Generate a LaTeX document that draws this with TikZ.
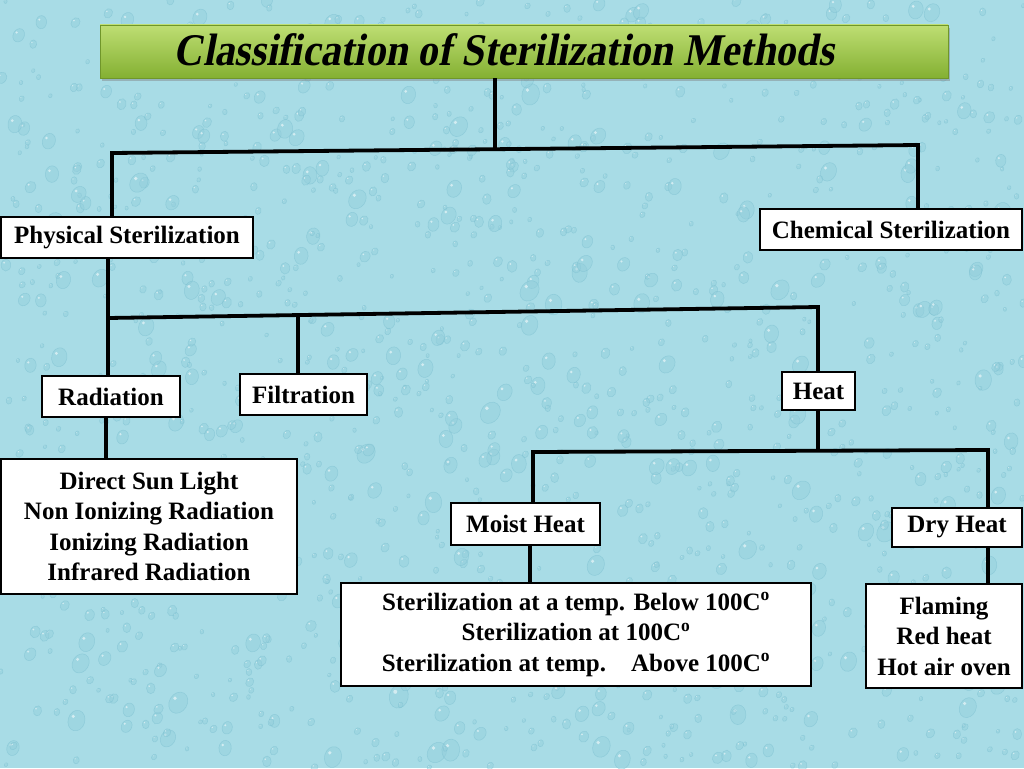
\documentclass[tikz,border=0pt]{standalone}
\usepackage{fontspec}
\setmainfont{Liberation Serif}
\newfontfamily\titlefont{Liberation Serif}[UprightFeatures={FakeSlant=0.21}, BoldFeatures={FakeSlant=0.21}]
\usetikzlibrary{shadows}
\definecolor{bgaqua}{RGB}{168,220,230}
\definecolor{dropdark}{RGB}{118,188,206}
\definecolor{titletop}{RGB}{190,222,115}
\definecolor{titlebot}{RGB}{132,176,50}
\tikzset{
  box/.style={draw=black, line width=2pt, fill=white, inner sep=0pt, align=center,
              font=\fontsize{25}{30.5}\selectfont\bfseries},
  conn/.style={draw=black, line width=3.8pt},
  drop/.style={draw=dropdark, line width=0.5pt, fill=dropdark!40!bgaqua, opacity=0.45},
  shine/.style={fill=white, opacity=0.55},
}
\begin{document}
\begin{tikzpicture}[x=1pt,y=-1pt]
\fill[bgaqua] (0,0) rectangle (1024,768);
\useasboundingbox (0,0) rectangle (1024,768);

% background droplet texture
\pgfmathsetseed{11}
\begin{scope}
\clip (0,0) rectangle (1024,768);
\foreach \i in {1,...,1400} {
  \pgfmathsetmacro\dx{rnd*1024}
  \pgfmathsetmacro\dy{rnd*768}
  \pgfmathsetmacro\dr{2+rnd*rnd*10}
  \pgfmathsetmacro\da{-40+rnd*40}
  \fill[drop, rotate around={\da:(\dx,\dy)}] (\dx,\dy) ellipse [x radius=\dr*0.8, y radius=\dr];
  \fill[shine] (\dx-\dr*0.3,\dy-\dr*0.4) circle [radius=\dr*0.17];
}
\end{scope}

% title
\node[draw=titlebot!85!black, line width=0.8pt, top color=titletop, bottom color=titlebot,
      drop shadow={shadow xshift=2pt, shadow yshift=-3pt, opacity=0.45},
      minimum width=848pt, minimum height=53pt, inner sep=0pt] (title) at (524,51.5) {};
\node[font=\fontsize{40.5}{44}\titlefont\bfseries, inner sep=0pt] (titletext) at (504,50)
      {\scalebox{1}[1.12]{Classification of Sterilization Methods}};

% boxes
\node[box, minimum width=252pt, minimum height=41pt] (phys) at (127,237.5) {Physical Sterilization};
\node[box, minimum width=262pt, minimum height=41pt] (chem) at (891,229.5) {Chemical Sterilization};
\node[box, minimum width=138pt, minimum height=41pt] (rad) at (111,396.5) {Radiation};
\node[box, minimum width=127pt, minimum height=41pt] (filt) at (303.5,394.5) {Filtration};
\node[box, minimum width=73pt, minimum height=38pt] (heat) at (818.5,391) {Heat};
\node[box, minimum width=296pt, minimum height=135pt] (list) at (149,526.5)
  {Direct Sun Light\\Non Ionizing Radiation\\Ionizing Radiation\\Infrared Radiation};
\node[box, minimum width=149pt, minimum height=42pt] (moist) at (525.5,524) {Moist Heat};
\node[box, minimum width=130pt, minimum height=39pt] (dry) at (957,527.5) {Dry Heat};
\node[box, minimum width=470pt, minimum height=103pt] (ster) at (576,634.5)
  {Sterilization at a temp. Below 100C\textsuperscript{o}\\Sterilization at 100C\textsuperscript{o}\\Sterilization at temp.\quad Above 100C\textsuperscript{o}};
\node[box, minimum width=156pt, minimum height=104pt] (flame) at (944,636)
  {Flaming\\Red heat\\Hot air oven};

% junction coordinates
\coordinate (t1) at (495,149);
\coordinate (b1l) at (112,153);
\coordinate (b1r) at (918,145);
\coordinate (b2l) at (108,318);
\coordinate (b2f) at (298,316);
\coordinate (b2r) at (818,307);
\coordinate (h1) at (818,450.5);
\coordinate (b3l) at (533,452);
\coordinate (b3r) at (988,450);

% connectors
\draw[conn] (title.south -| t1) -- (t1);
\draw[conn] (phys.north -| b1l) -- (b1l) -- (b1r) -- (chem.north -| b1r);
\draw[conn] (phys.south -| b2l) -- (b2l) -- (b2r) -- (heat.north -| b2r);
\draw[conn] (b2l) -- (rad.north -| b2l);
\draw[conn] (b2f) -- (filt.north -| b2f);
\draw[conn] (heat.south -| h1) -- (h1);
\draw[conn] (moist.north -| b3l) -- (b3l) -- (b3r) -- (dry.north -| b3r);
\draw[conn] (rad.south -| 106,0) -- (list.north -| 106,0);
\draw[conn] (moist.south -| 530,0) -- (ster.north -| 530,0);
\draw[conn] (dry.south -| 988,0) -- (flame.north -| 988,0);
\end{tikzpicture}
\end{document}
